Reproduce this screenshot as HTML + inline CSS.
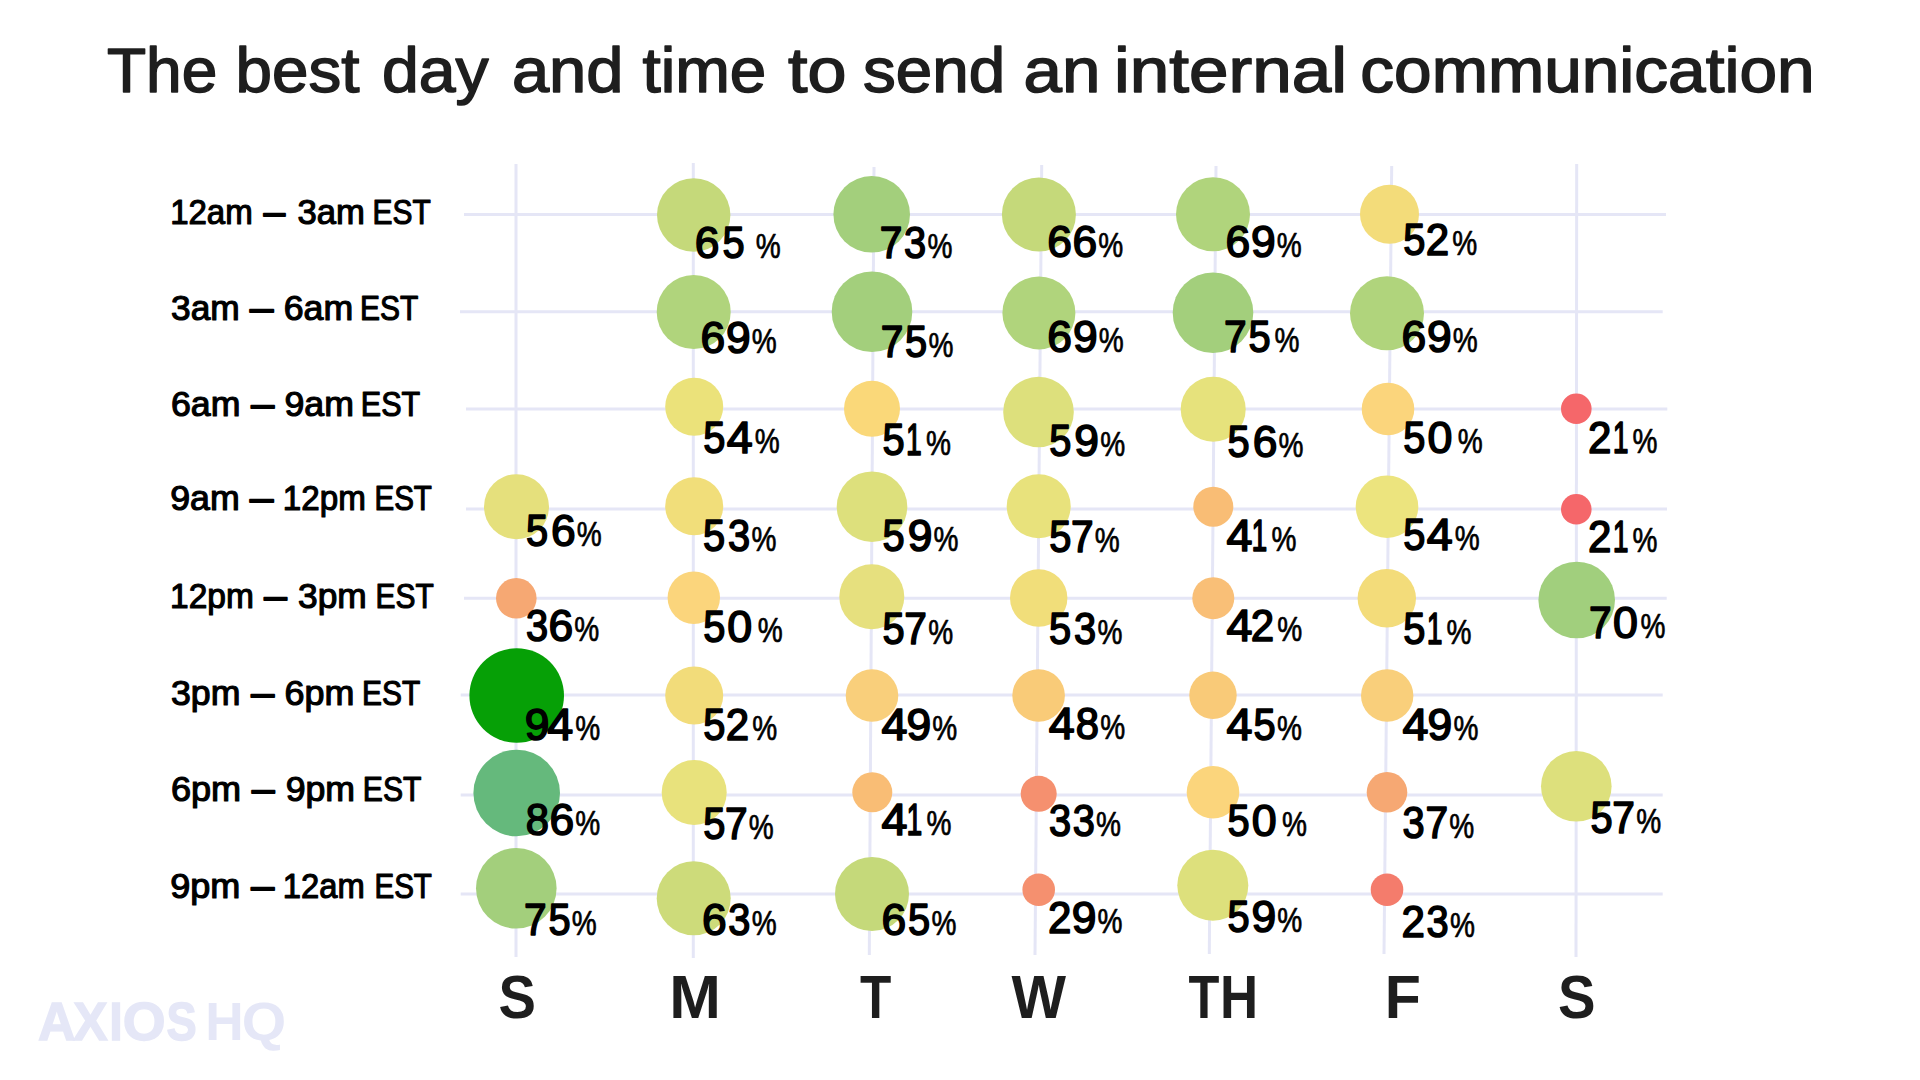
<!DOCTYPE html>
<html lang="en">
<head>
<meta charset="utf-8">
<title>The best day and time to send an internal communication</title>
<style>
html,body{margin:0;padding:0;background:#fff;}
body{width:1920px;height:1080px;overflow:hidden;}
svg{display:block;}
text{font-family:"Liberation Sans", Arial, Helvetica, sans-serif;white-space:pre;}
.title{font-size:63px;font-weight:400;fill:#1e1e1e;stroke:#1e1e1e;stroke-width:1.5px;stroke-linejoin:round;}
.lab{font-size:35.5px;fill:#000;stroke:#000;stroke-width:1.2px;stroke-linejoin:round;}
.dash{stroke-width:2px;}
.num{font-size:44px;fill:#000;stroke:#000;stroke-width:1.6px;stroke-linejoin:round;}
.pct{font-size:34.5px;stroke-width:0.7px;}
.day{font-size:62px;font-weight:700;fill:#1e1e1e;}
.logo{font-size:54px;font-weight:700;fill:#e5e7f7;stroke:#e5e7f7;stroke-width:1.4px;}
.hq{stroke-width:0;}
.grid line{stroke:#e5e6f6;stroke-width:3;stroke-linecap:butt;}
</style>
</head>
<body>
<svg width="1920" height="1080" viewBox="0 0 1920 1080">
<rect width="1920" height="1080" fill="#ffffff"/>
<text class="title" y="92.3"><tspan x="107.03" textLength="110.29" lengthAdjust="spacingAndGlyphs">The</tspan> <tspan x="235.59" textLength="123.84" lengthAdjust="spacingAndGlyphs">best</tspan> <tspan x="381.95" textLength="106.78" lengthAdjust="spacingAndGlyphs">day</tspan> <tspan x="511.93" textLength="111.61" lengthAdjust="spacingAndGlyphs">and</tspan> <tspan x="642.45" textLength="123.92" lengthAdjust="spacingAndGlyphs">time</tspan> <tspan x="788.05" textLength="58.47" lengthAdjust="spacingAndGlyphs">to</tspan> <tspan x="863.01" textLength="142.14" lengthAdjust="spacingAndGlyphs">send</tspan> <tspan x="1023.56" textLength="76.82" lengthAdjust="spacingAndGlyphs">an</tspan> <tspan x="1113.94" textLength="233.12" lengthAdjust="spacingAndGlyphs">internal</tspan> <tspan x="1360.31" textLength="454.27" lengthAdjust="spacingAndGlyphs">communication</tspan></text>
<g class="grid">
<line x1="464" y1="214.5" x2="1666" y2="214.5"/>
<line x1="460" y1="311.7" x2="1662.7" y2="311.7"/>
<line x1="466" y1="409" x2="1667.3" y2="409"/>
<line x1="466" y1="509" x2="1667" y2="509"/>
<line x1="464" y1="598.3" x2="1666.7" y2="598.3"/>
<line x1="460.7" y1="695" x2="1662.7" y2="695"/>
<line x1="460.7" y1="795" x2="1662.7" y2="795"/>
<line x1="460.7" y1="894" x2="1662.7" y2="894"/>
<line x1="516" y1="164" x2="516" y2="957"/>
<line x1="693.3" y1="163" x2="693.3" y2="958"/>
<line x1="874" y1="167" x2="869.3" y2="955"/>
<line x1="1041.7" y1="165" x2="1035" y2="955"/>
<line x1="1216" y1="166" x2="1209.3" y2="954"/>
<line x1="1391.7" y1="166" x2="1384" y2="954"/>
<line x1="1576.7" y1="164" x2="1576" y2="957"/>
</g>
<g class="dots">
<circle cx="693.7" cy="215" r="36.7" fill="#c5d97a"/>
<circle cx="871.7" cy="214.3" r="38.3" fill="#a3cf7c"/>
<circle cx="1038.9" cy="214.5" r="37" fill="#c5d97a"/>
<circle cx="1213" cy="214.3" r="37" fill="#b0d47c"/>
<circle cx="1389.5" cy="214.2" r="29.5" fill="#f3dc7a"/>
<circle cx="693.7" cy="312" r="37" fill="#b0d47c"/>
<circle cx="872" cy="311.7" r="40.3" fill="#a3cf7c"/>
<circle cx="1038.9" cy="312.9" r="36.5" fill="#b0d47c"/>
<circle cx="1213" cy="312.7" r="40.3" fill="#a3cf7c"/>
<circle cx="1387" cy="313.3" r="37" fill="#b0d47c"/>
<circle cx="694.2" cy="406.7" r="29" fill="#ebe27a"/>
<circle cx="872" cy="408.8" r="28" fill="#fad879"/>
<circle cx="1038.5" cy="412" r="35.3" fill="#dde07c"/>
<circle cx="1213.2" cy="409.2" r="32.5" fill="#e6e27c"/>
<circle cx="1388" cy="409" r="26.3" fill="#fbd57c"/>
<circle cx="1576.3" cy="408.7" r="15.3" fill="#f5676a"/>
<circle cx="516.5" cy="506.7" r="32.5" fill="#e5e07c"/>
<circle cx="694.2" cy="506.2" r="29" fill="#f1de7a"/>
<circle cx="872" cy="506.7" r="35.3" fill="#dde07c"/>
<circle cx="1038.7" cy="506.3" r="32" fill="#e8e27c"/>
<circle cx="1213.3" cy="506.7" r="20" fill="#f9bd75"/>
<circle cx="1387" cy="506.7" r="31.3" fill="#ece47e"/>
<circle cx="1576.3" cy="509.3" r="15.3" fill="#f5676a"/>
<circle cx="516.3" cy="598.3" r="20.3" fill="#f6a873"/>
<circle cx="693.8" cy="597.8" r="26.2" fill="#fbd57c"/>
<circle cx="871.8" cy="596.8" r="32.5" fill="#e6e07e"/>
<circle cx="1038.7" cy="598" r="28.7" fill="#f1de7a"/>
<circle cx="1213.3" cy="598.2" r="21" fill="#f9bf77"/>
<circle cx="1386.8" cy="598.3" r="29.2" fill="#f3dc7a"/>
<circle cx="1576.7" cy="600" r="38.3" fill="#a1cf7d"/>
<circle cx="516.7" cy="695.5" r="47.3" fill="#06a006"/>
<circle cx="694.2" cy="695.5" r="29" fill="#f2dc7a"/>
<circle cx="872" cy="695.5" r="26.3" fill="#f9cf7b"/>
<circle cx="1038.6" cy="695.5" r="26.3" fill="#f9cb78"/>
<circle cx="1213" cy="695.3" r="23.7" fill="#f9ca78"/>
<circle cx="1387.2" cy="695.5" r="26.2" fill="#f9cf7b"/>
<circle cx="516.7" cy="793" r="43.3" fill="#65b97c"/>
<circle cx="694.2" cy="792.5" r="32.5" fill="#e8e27c"/>
<circle cx="872.3" cy="792.3" r="20" fill="#f9bd75"/>
<circle cx="1038.7" cy="793.8" r="18" fill="#f5906f"/>
<circle cx="1213" cy="792.2" r="26.3" fill="#fbd57c"/>
<circle cx="1387" cy="792.3" r="20.3" fill="#f6a873"/>
<circle cx="1576.3" cy="786.3" r="35.3" fill="#dde07c"/>
<circle cx="516.3" cy="888.3" r="40.3" fill="#a3cf7c"/>
<circle cx="693.7" cy="898.3" r="37" fill="#cddb7a"/>
<circle cx="872" cy="894" r="37" fill="#c5d97a"/>
<circle cx="1038.7" cy="889.7" r="16.3" fill="#f5906f"/>
<circle cx="1212.8" cy="885.3" r="35.5" fill="#dde07c"/>
<circle cx="1387" cy="889.7" r="16.3" fill="#f47c6c"/>
</g>
<g class="labels">
<text class="lab" y="223.7"><tspan x="170.14" textLength="82.62" lengthAdjust="spacingAndGlyphs">12am</tspan> <tspan class="dash" x="263.4" textLength="21.79" lengthAdjust="spacingAndGlyphs">—</tspan> <tspan x="297.42" textLength="67.41" lengthAdjust="spacingAndGlyphs">3am</tspan> <tspan x="372.52" textLength="58.16" lengthAdjust="spacingAndGlyphs">EST</tspan></text>
<text class="lab" y="319.7"><tspan x="171.01" textLength="68.66" lengthAdjust="spacingAndGlyphs">3am</tspan> <tspan class="dash" x="249.7" textLength="23.77" lengthAdjust="spacingAndGlyphs">—</tspan> <tspan x="283.69" textLength="69.49" lengthAdjust="spacingAndGlyphs">6am</tspan> <tspan x="360.01" textLength="58.27" lengthAdjust="spacingAndGlyphs">EST</tspan></text>
<text class="lab" y="415.7"><tspan x="171.0" textLength="69.38" lengthAdjust="spacingAndGlyphs">6am</tspan> <tspan class="dash" x="250.9" textLength="23.37" lengthAdjust="spacingAndGlyphs">—</tspan> <tspan x="284.49" textLength="69.49" lengthAdjust="spacingAndGlyphs">9am</tspan> <tspan x="360.78" textLength="59.41" lengthAdjust="spacingAndGlyphs">EST</tspan></text>
<text class="lab" y="510.2"><tspan x="170.19" textLength="69.49" lengthAdjust="spacingAndGlyphs">9am</tspan> <tspan class="dash" x="249.7" textLength="23.77" lengthAdjust="spacingAndGlyphs">—</tspan> <tspan x="282.83" textLength="83.04" lengthAdjust="spacingAndGlyphs">12pm</tspan> <tspan x="374.44" textLength="57.43" lengthAdjust="spacingAndGlyphs">EST</tspan></text>
<text class="lab" y="607.8"><tspan x="170.11" textLength="83.77" lengthAdjust="spacingAndGlyphs">12pm</tspan> <tspan class="dash" x="264.1" textLength="22.98" lengthAdjust="spacingAndGlyphs">—</tspan> <tspan x="298.11" textLength="68.66" lengthAdjust="spacingAndGlyphs">3pm</tspan> <tspan x="375.62" textLength="58.16" lengthAdjust="spacingAndGlyphs">EST</tspan></text>
<text class="lab" y="704.6"><tspan x="171.0" textLength="69.38" lengthAdjust="spacingAndGlyphs">3pm</tspan> <tspan class="dash" x="250.9" textLength="23.37" lengthAdjust="spacingAndGlyphs">—</tspan> <tspan x="284.49" textLength="69.9" lengthAdjust="spacingAndGlyphs">6pm</tspan> <tspan x="362.02" textLength="58.16" lengthAdjust="spacingAndGlyphs">EST</tspan></text>
<text class="lab" y="801.1"><tspan x="170.98" textLength="70.21" lengthAdjust="spacingAndGlyphs">6pm</tspan> <tspan class="dash" x="251.7" textLength="22.98" lengthAdjust="spacingAndGlyphs">—</tspan> <tspan x="285.7" textLength="69.38" lengthAdjust="spacingAndGlyphs">9pm</tspan> <tspan x="362.8" textLength="58.58" lengthAdjust="spacingAndGlyphs">EST</tspan></text>
<text class="lab" y="897.5"><tspan x="170.18" textLength="70.21" lengthAdjust="spacingAndGlyphs">9pm</tspan> <tspan class="dash" x="250.9" textLength="23.37" lengthAdjust="spacingAndGlyphs">—</tspan> <tspan x="282.86" textLength="81.89" lengthAdjust="spacingAndGlyphs">12am</tspan> <tspan x="374.44" textLength="57.43" lengthAdjust="spacingAndGlyphs">EST</tspan></text>
</g>
<g class="values">
<text class="num" y="258.3"><tspan x="694.78" textLength="24.7" lengthAdjust="spacingAndGlyphs">6</tspan><tspan x="722.4" textLength="22.13" lengthAdjust="spacingAndGlyphs">5</tspan> <tspan class="pct" x="755.84" textLength="24.96" lengthAdjust="spacingAndGlyphs">%</tspan></text>
<text class="num" y="257.5"><tspan x="879.65" textLength="22.61" lengthAdjust="spacingAndGlyphs">7</tspan><tspan x="904.1" textLength="22.13" lengthAdjust="spacingAndGlyphs">3</tspan><tspan class="pct" x="927.44" textLength="24.96" lengthAdjust="spacingAndGlyphs">%</tspan></text>
<text class="num" y="256.9"><tspan x="1047.38" textLength="24.7" lengthAdjust="spacingAndGlyphs">6</tspan><tspan x="1072.48" textLength="24.7" lengthAdjust="spacingAndGlyphs">6</tspan><tspan class="pct" x="1098.24" textLength="24.96" lengthAdjust="spacingAndGlyphs">%</tspan></text>
<text class="num" y="257.3"><tspan x="1225.48" textLength="24.7" lengthAdjust="spacingAndGlyphs">6</tspan><tspan x="1250.98" textLength="24.7" lengthAdjust="spacingAndGlyphs">9</tspan><tspan class="pct" x="1276.74" textLength="24.96" lengthAdjust="spacingAndGlyphs">%</tspan></text>
<text class="num" y="255"><tspan x="1403.2" textLength="22.13" lengthAdjust="spacingAndGlyphs">5</tspan><tspan x="1425.79" textLength="23.42" lengthAdjust="spacingAndGlyphs">2</tspan><tspan class="pct" x="1452.14" textLength="24.96" lengthAdjust="spacingAndGlyphs">%</tspan></text>
<text class="num" y="352.7"><tspan x="700.48" textLength="24.7" lengthAdjust="spacingAndGlyphs">6</tspan><tspan x="725.98" textLength="24.7" lengthAdjust="spacingAndGlyphs">9</tspan><tspan class="pct" x="751.74" textLength="24.96" lengthAdjust="spacingAndGlyphs">%</tspan></text>
<text class="num" y="356.7"><tspan x="880.65" textLength="22.61" lengthAdjust="spacingAndGlyphs">7</tspan><tspan x="905.1" textLength="22.13" lengthAdjust="spacingAndGlyphs">5</tspan><tspan class="pct" x="928.44" textLength="24.96" lengthAdjust="spacingAndGlyphs">%</tspan></text>
<text class="num" y="352.2"><tspan x="1047.38" textLength="24.7" lengthAdjust="spacingAndGlyphs">6</tspan><tspan x="1072.88" textLength="24.7" lengthAdjust="spacingAndGlyphs">9</tspan><tspan class="pct" x="1098.64" textLength="24.96" lengthAdjust="spacingAndGlyphs">%</tspan></text>
<text class="num" y="351.7"><tspan x="1223.95" textLength="22.61" lengthAdjust="spacingAndGlyphs">7</tspan><tspan x="1248.4" textLength="22.13" lengthAdjust="spacingAndGlyphs">5</tspan><tspan class="pct" x="1274.54" textLength="24.96" lengthAdjust="spacingAndGlyphs">%</tspan></text>
<text class="num" y="351.7"><tspan x="1401.48" textLength="24.7" lengthAdjust="spacingAndGlyphs">6</tspan><tspan x="1426.98" textLength="24.7" lengthAdjust="spacingAndGlyphs">9</tspan><tspan class="pct" x="1452.74" textLength="24.96" lengthAdjust="spacingAndGlyphs">%</tspan></text>
<text class="num" y="452.7"><tspan x="703.2" textLength="22.13" lengthAdjust="spacingAndGlyphs">5</tspan><tspan x="726.74" textLength="25.96" lengthAdjust="spacingAndGlyphs">4</tspan><tspan class="pct" x="754.74" textLength="24.96" lengthAdjust="spacingAndGlyphs">%</tspan></text>
<text class="num" y="454.8"><tspan x="882.6" textLength="22.13" lengthAdjust="spacingAndGlyphs">5</tspan><tspan x="906.06" textLength="15.78" lengthAdjust="spacingAndGlyphs">1</tspan><tspan class="pct" x="925.94" textLength="24.96" lengthAdjust="spacingAndGlyphs">%</tspan></text>
<text class="num" y="456.3"><tspan x="1049.3" textLength="22.13" lengthAdjust="spacingAndGlyphs">5</tspan><tspan x="1074.38" textLength="24.7" lengthAdjust="spacingAndGlyphs">9</tspan><tspan class="pct" x="1100.14" textLength="24.96" lengthAdjust="spacingAndGlyphs">%</tspan></text>
<text class="num" y="456.6"><tspan x="1227.6" textLength="22.13" lengthAdjust="spacingAndGlyphs">5</tspan><tspan x="1252.68" textLength="24.7" lengthAdjust="spacingAndGlyphs">6</tspan><tspan class="pct" x="1278.44" textLength="24.96" lengthAdjust="spacingAndGlyphs">%</tspan></text>
<text class="num" y="453.3"><tspan x="1403.2" textLength="22.13" lengthAdjust="spacingAndGlyphs">5</tspan><tspan x="1427.38" textLength="24.92" lengthAdjust="spacingAndGlyphs">0</tspan><tspan class="pct" x="1457.64" textLength="24.96" lengthAdjust="spacingAndGlyphs">%</tspan></text>
<text class="num" y="453.3"><tspan x="1587.89" textLength="23.42" lengthAdjust="spacingAndGlyphs">2</tspan><tspan x="1612.66" textLength="15.78" lengthAdjust="spacingAndGlyphs">1</tspan><tspan class="pct" x="1632.54" textLength="24.96" lengthAdjust="spacingAndGlyphs">%</tspan></text>
<text class="num" y="546"><tspan x="525.9" textLength="22.13" lengthAdjust="spacingAndGlyphs">5</tspan><tspan x="550.98" textLength="24.7" lengthAdjust="spacingAndGlyphs">6</tspan><tspan class="pct" x="576.74" textLength="24.96" lengthAdjust="spacingAndGlyphs">%</tspan></text>
<text class="num" y="551"><tspan x="702.9" textLength="22.13" lengthAdjust="spacingAndGlyphs">5</tspan><tspan x="728.1" textLength="22.13" lengthAdjust="spacingAndGlyphs">3</tspan><tspan class="pct" x="751.44" textLength="24.96" lengthAdjust="spacingAndGlyphs">%</tspan></text>
<text class="num" y="551"><tspan x="882.6" textLength="22.13" lengthAdjust="spacingAndGlyphs">5</tspan><tspan x="907.68" textLength="24.7" lengthAdjust="spacingAndGlyphs">9</tspan><tspan class="pct" x="933.44" textLength="24.96" lengthAdjust="spacingAndGlyphs">%</tspan></text>
<text class="num" y="552.4"><tspan x="1049.3" textLength="22.13" lengthAdjust="spacingAndGlyphs">5</tspan><tspan x="1071.05" textLength="22.61" lengthAdjust="spacingAndGlyphs">7</tspan><tspan class="pct" x="1094.84" textLength="24.96" lengthAdjust="spacingAndGlyphs">%</tspan></text>
<text class="num" y="551"><tspan x="1226.44" textLength="25.96" lengthAdjust="spacingAndGlyphs">4</tspan><tspan x="1251.57" textLength="15.78" lengthAdjust="spacingAndGlyphs">1</tspan><tspan class="pct" x="1271.44" textLength="24.96" lengthAdjust="spacingAndGlyphs">%</tspan></text>
<text class="num" y="550"><tspan x="1403.2" textLength="22.13" lengthAdjust="spacingAndGlyphs">5</tspan><tspan x="1426.74" textLength="25.96" lengthAdjust="spacingAndGlyphs">4</tspan><tspan class="pct" x="1454.74" textLength="24.96" lengthAdjust="spacingAndGlyphs">%</tspan></text>
<text class="num" y="551.7"><tspan x="1587.89" textLength="23.42" lengthAdjust="spacingAndGlyphs">2</tspan><tspan x="1612.66" textLength="15.78" lengthAdjust="spacingAndGlyphs">1</tspan><tspan class="pct" x="1632.54" textLength="24.96" lengthAdjust="spacingAndGlyphs">%</tspan></text>
<text class="num" y="641"><tspan x="525.9" textLength="22.13" lengthAdjust="spacingAndGlyphs">3</tspan><tspan x="548.58" textLength="24.7" lengthAdjust="spacingAndGlyphs">6</tspan><tspan class="pct" x="574.34" textLength="24.96" lengthAdjust="spacingAndGlyphs">%</tspan></text>
<text class="num" y="641.7"><tspan x="703.2" textLength="22.13" lengthAdjust="spacingAndGlyphs">5</tspan><tspan x="727.38" textLength="24.92" lengthAdjust="spacingAndGlyphs">0</tspan><tspan class="pct" x="757.64" textLength="24.96" lengthAdjust="spacingAndGlyphs">%</tspan></text>
<text class="num" y="644"><tspan x="882.6" textLength="22.13" lengthAdjust="spacingAndGlyphs">5</tspan><tspan x="904.35" textLength="22.61" lengthAdjust="spacingAndGlyphs">7</tspan><tspan class="pct" x="928.14" textLength="24.96" lengthAdjust="spacingAndGlyphs">%</tspan></text>
<text class="num" y="643.5"><tspan x="1048.9" textLength="22.13" lengthAdjust="spacingAndGlyphs">5</tspan><tspan x="1074.1" textLength="22.13" lengthAdjust="spacingAndGlyphs">3</tspan><tspan class="pct" x="1097.44" textLength="24.96" lengthAdjust="spacingAndGlyphs">%</tspan></text>
<text class="num" y="640.7"><tspan x="1226.44" textLength="25.96" lengthAdjust="spacingAndGlyphs">4</tspan><tspan x="1250.69" textLength="23.42" lengthAdjust="spacingAndGlyphs">2</tspan><tspan class="pct" x="1277.24" textLength="24.96" lengthAdjust="spacingAndGlyphs">%</tspan></text>
<text class="num" y="644"><tspan x="1403.2" textLength="22.13" lengthAdjust="spacingAndGlyphs">5</tspan><tspan x="1426.66" textLength="15.78" lengthAdjust="spacingAndGlyphs">1</tspan><tspan class="pct" x="1446.54" textLength="24.96" lengthAdjust="spacingAndGlyphs">%</tspan></text>
<text class="num" y="638.3"><tspan x="1588.95" textLength="22.61" lengthAdjust="spacingAndGlyphs">7</tspan><tspan x="1613.08" textLength="24.92" lengthAdjust="spacingAndGlyphs">0</tspan><tspan class="pct" x="1640.44" textLength="24.96" lengthAdjust="spacingAndGlyphs">%</tspan></text>
<text class="num" y="740"><tspan x="524.78" textLength="24.7" lengthAdjust="spacingAndGlyphs">9</tspan><tspan x="547.24" textLength="25.96" lengthAdjust="spacingAndGlyphs">4</tspan><tspan class="pct" x="575.24" textLength="24.96" lengthAdjust="spacingAndGlyphs">%</tspan></text>
<text class="num" y="740"><tspan x="703.2" textLength="22.13" lengthAdjust="spacingAndGlyphs">5</tspan><tspan x="725.79" textLength="23.42" lengthAdjust="spacingAndGlyphs">2</tspan><tspan class="pct" x="752.14" textLength="24.96" lengthAdjust="spacingAndGlyphs">%</tspan></text>
<text class="num" y="740"><tspan x="881.44" textLength="25.96" lengthAdjust="spacingAndGlyphs">4</tspan><tspan x="906.48" textLength="24.7" lengthAdjust="spacingAndGlyphs">9</tspan><tspan class="pct" x="932.24" textLength="24.96" lengthAdjust="spacingAndGlyphs">%</tspan></text>
<text class="num" y="739"><tspan x="1048.74" textLength="25.96" lengthAdjust="spacingAndGlyphs">4</tspan><tspan x="1075.85" textLength="23.25" lengthAdjust="spacingAndGlyphs">8</tspan><tspan class="pct" x="1100.24" textLength="24.96" lengthAdjust="spacingAndGlyphs">%</tspan></text>
<text class="num" y="740"><tspan x="1226.44" textLength="25.96" lengthAdjust="spacingAndGlyphs">4</tspan><tspan x="1253.6" textLength="22.13" lengthAdjust="spacingAndGlyphs">5</tspan><tspan class="pct" x="1276.94" textLength="24.96" lengthAdjust="spacingAndGlyphs">%</tspan></text>
<text class="num" y="740"><tspan x="1402.44" textLength="25.96" lengthAdjust="spacingAndGlyphs">4</tspan><tspan x="1427.48" textLength="24.7" lengthAdjust="spacingAndGlyphs">9</tspan><tspan class="pct" x="1453.54" textLength="24.96" lengthAdjust="spacingAndGlyphs">%</tspan></text>
<text class="num" y="835.3"><tspan x="525.85" textLength="23.25" lengthAdjust="spacingAndGlyphs">8</tspan><tspan x="549.48" textLength="24.7" lengthAdjust="spacingAndGlyphs">6</tspan><tspan class="pct" x="575.24" textLength="24.96" lengthAdjust="spacingAndGlyphs">%</tspan></text>
<text class="num" y="838.5"><tspan x="703.2" textLength="22.13" lengthAdjust="spacingAndGlyphs">5</tspan><tspan x="724.95" textLength="22.61" lengthAdjust="spacingAndGlyphs">7</tspan><tspan class="pct" x="748.74" textLength="24.96" lengthAdjust="spacingAndGlyphs">%</tspan></text>
<text class="num" y="835"><tspan x="881.44" textLength="25.96" lengthAdjust="spacingAndGlyphs">4</tspan><tspan x="906.56" textLength="15.78" lengthAdjust="spacingAndGlyphs">1</tspan><tspan class="pct" x="926.44" textLength="24.96" lengthAdjust="spacingAndGlyphs">%</tspan></text>
<text class="num" y="836"><tspan x="1048.9" textLength="22.13" lengthAdjust="spacingAndGlyphs">3</tspan><tspan x="1072.7" textLength="22.13" lengthAdjust="spacingAndGlyphs">3</tspan><tspan class="pct" x="1096.04" textLength="24.96" lengthAdjust="spacingAndGlyphs">%</tspan></text>
<text class="num" y="836"><tspan x="1227.6" textLength="22.13" lengthAdjust="spacingAndGlyphs">5</tspan><tspan x="1251.78" textLength="24.92" lengthAdjust="spacingAndGlyphs">0</tspan><tspan class="pct" x="1282.04" textLength="24.96" lengthAdjust="spacingAndGlyphs">%</tspan></text>
<text class="num" y="838.3"><tspan x="1402.6" textLength="22.13" lengthAdjust="spacingAndGlyphs">3</tspan><tspan x="1425.45" textLength="22.61" lengthAdjust="spacingAndGlyphs">7</tspan><tspan class="pct" x="1449.24" textLength="24.96" lengthAdjust="spacingAndGlyphs">%</tspan></text>
<text class="num" y="833"><tspan x="1590.6" textLength="22.13" lengthAdjust="spacingAndGlyphs">5</tspan><tspan x="1612.35" textLength="22.61" lengthAdjust="spacingAndGlyphs">7</tspan><tspan class="pct" x="1636.14" textLength="24.96" lengthAdjust="spacingAndGlyphs">%</tspan></text>
<text class="num" y="934.5"><tspan x="523.95" textLength="22.61" lengthAdjust="spacingAndGlyphs">7</tspan><tspan x="548.4" textLength="22.13" lengthAdjust="spacingAndGlyphs">5</tspan><tspan class="pct" x="571.74" textLength="24.96" lengthAdjust="spacingAndGlyphs">%</tspan></text>
<text class="num" y="935.3"><tspan x="702.08" textLength="24.7" lengthAdjust="spacingAndGlyphs">6</tspan><tspan x="728.3" textLength="22.13" lengthAdjust="spacingAndGlyphs">3</tspan><tspan class="pct" x="751.64" textLength="24.96" lengthAdjust="spacingAndGlyphs">%</tspan></text>
<text class="num" y="935"><tspan x="881.48" textLength="24.7" lengthAdjust="spacingAndGlyphs">6</tspan><tspan x="908.1" textLength="22.13" lengthAdjust="spacingAndGlyphs">5</tspan><tspan class="pct" x="931.44" textLength="24.96" lengthAdjust="spacingAndGlyphs">%</tspan></text>
<text class="num" y="933"><tspan x="1047.89" textLength="23.42" lengthAdjust="spacingAndGlyphs">2</tspan><tspan x="1071.78" textLength="24.7" lengthAdjust="spacingAndGlyphs">9</tspan><tspan class="pct" x="1097.54" textLength="24.96" lengthAdjust="spacingAndGlyphs">%</tspan></text>
<text class="num" y="931.7"><tspan x="1227.6" textLength="22.13" lengthAdjust="spacingAndGlyphs">5</tspan><tspan x="1251.38" textLength="24.7" lengthAdjust="spacingAndGlyphs">9</tspan><tspan class="pct" x="1277.14" textLength="24.96" lengthAdjust="spacingAndGlyphs">%</tspan></text>
<text class="num" y="936.7"><tspan x="1401.59" textLength="23.42" lengthAdjust="spacingAndGlyphs">2</tspan><tspan x="1426.6" textLength="22.13" lengthAdjust="spacingAndGlyphs">3</tspan><tspan class="pct" x="1449.94" textLength="24.96" lengthAdjust="spacingAndGlyphs">%</tspan></text>
</g>
<g class="days">
<text class="day" x="498.59" y="1017.6" textLength="37.44" lengthAdjust="spacingAndGlyphs">S</text>
<text class="day" x="669.2" y="1017.6" textLength="51.65" lengthAdjust="spacingAndGlyphs">M</text>
<text class="day" x="859.9" y="1017.6" textLength="31.29" lengthAdjust="spacingAndGlyphs">T</text>
<text class="day" x="1011.5" y="1017.6" textLength="54.55" lengthAdjust="spacingAndGlyphs">W</text>
<text class="day" y="1017.6"><tspan x="1188.5" textLength="30.9" lengthAdjust="spacingAndGlyphs">T</tspan><tspan x="1220.09" textLength="38.12" lengthAdjust="spacingAndGlyphs">H</tspan></text>
<text class="day" x="1384.69" y="1017.6" textLength="36.1" lengthAdjust="spacingAndGlyphs">F</text>
<text class="day" x="1558.09" y="1017.6" textLength="37.54" lengthAdjust="spacingAndGlyphs">S</text>
</g>
<text class="logo" y="1040"><tspan x="38.04" textLength="37.52" lengthAdjust="spacingAndGlyphs">A</tspan><tspan x="73.2" textLength="34.42" lengthAdjust="spacingAndGlyphs">X</tspan><tspan x="109.3" textLength="13.5" lengthAdjust="spacingAndGlyphs">I</tspan><tspan x="122.66" textLength="42.89" lengthAdjust="spacingAndGlyphs">O</tspan><tspan x="166.56" textLength="30.23" lengthAdjust="spacingAndGlyphs">S</tspan> <tspan class="hq" x="205.35" textLength="38.41" lengthAdjust="spacingAndGlyphs">H</tspan><tspan class="hq" x="241.88" textLength="44.43" lengthAdjust="spacingAndGlyphs">Q</tspan></text>
</svg>
</body>
</html>
